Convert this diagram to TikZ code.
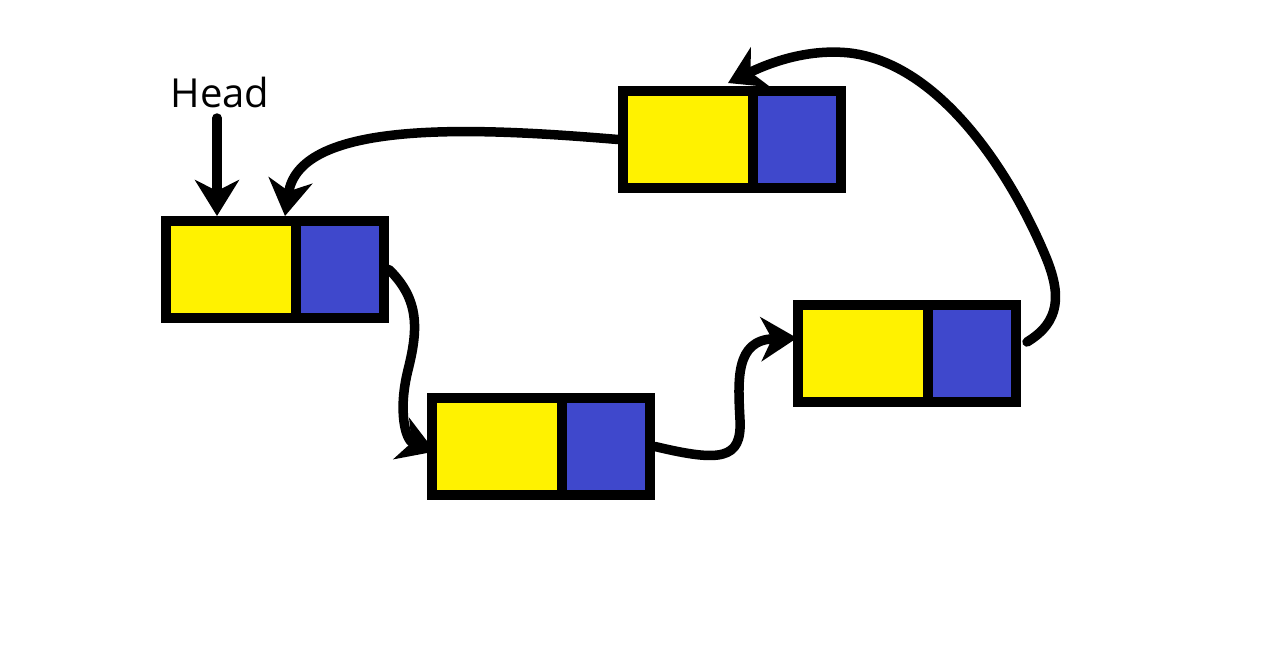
\documentclass[tikz,border=0pt]{standalone}
\usepackage{fontspec}
\setmainfont{Open Sans}
\usetikzlibrary{arrows.meta}
\definecolor{cellyellow}{HTML}{FFF200}
\definecolor{cellblue}{HTML}{3F48CC}
\begin{document}
\begin{tikzpicture}[x=1pt,y=-1pt,
  datacell/.style={draw=black,line width=10pt,fill=cellyellow,minimum width=130pt,minimum height=97pt,inner sep=0pt},
  linkcell/.style={draw=black,line width=10pt,fill=cellblue,minimum width=88pt,minimum height=97pt,inner sep=0pt},
  link/.style={line width=9.5pt,line cap=round,-{Stealth[length=36pt,width=44pt,inset=11pt]}},
  headlabel/.style={font=\fontsize{40}{48}\selectfont,inner sep=0pt}]
\fill[white] (0,0) rectangle (1284,648);
\useasboundingbox (0,0) rectangle (1284,648);
% list items
\node[datacell] (aY) at (231,269.5) {};
\node[linkcell] (aB) at (340,269.5) {};
\node[datacell] (bY) at (688,139.5) {};
\node[linkcell] (bB) at (797,139.5) {};
\node[datacell] (cY) at (497,446.5) {};
\node[linkcell] (cB) at (606,446.5) {};
\node[datacell] (dY) at (863,353) {};
\node[linkcell] (dB) at (972,353) {};
% head label
\node[headlabel] (head) at (220,92) {Head};
\coordinate (hstart) at (217,118);
\draw[link] (hstart) -- (hstart |- aY.north);
% B -> A
\draw[link] (bY.west) .. controls (480,128) and (300,118) .. ([xshift=-16pt]aY.north east);
% A -> C
\draw[link] (aB.east) .. controls (420,300) and (418,330) .. (408,370)
  .. controls (398,410) and (405,440) .. ([xshift=8pt,yshift=-5pt]cY.west);
% C -> D
\draw[link] (cB.east) .. controls (720,462) and (742,460) .. (740,420)
  .. controls (738,380) and (735,340) .. ([xshift=4pt,yshift=15pt]dY.west);
% D -> B
\draw[link] ([xshift=6pt,yshift=11pt]dB.east) .. controls (1060,322) and (1062,295) .. (1045,255)
  .. controls (1010,172) and (940,64) .. (850,53)
  .. controls (805,48) and (765,65) .. ([xshift=-30pt,yshift=3pt]bY.north east);
\end{tikzpicture}
\end{document}
